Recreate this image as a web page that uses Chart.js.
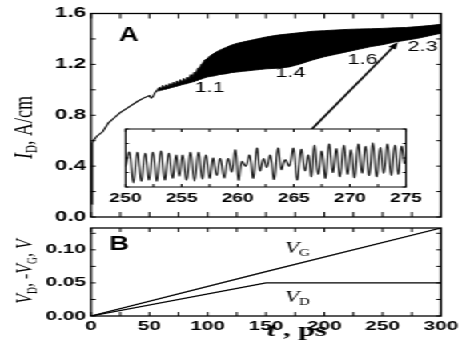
<!DOCTYPE html>
<html>
<head>
<meta charset="utf-8">
<script src="https://cdn.jsdelivr.net/npm/chart.js@4/dist/chart.umd.min.js"></script>
<style>
html, body { margin: 0; padding: 0; background: #fff; overflow: hidden; }
#wrap { position: absolute; left: 0; top: 0; width: 296px; height: 363px; transform: scaleX(1.60135); transform-origin: 0 0; }
#wrap canvas { position: absolute; left: 0; top: 0; }
</style>
</head>
<body>
<div id="wrap">
  <canvas id="cA" width="296" height="363"></canvas>
  <canvas id="cIn" width="296" height="363"></canvas>
  <canvas id="cB" width="296" height="363"></canvas>
</div>
<script>
// ---------------- DATA ----------------
// Panel A: drain current I_D (A/cm) vs time t (ps)
const traceT = [1.0, 1.1, 1.3, 2, 5, 10, 15, 20, 25, 30, 35, 40, 45, 50, 51.5, 53, 55, 57];
const traceI = [0.10, 0.45, 0.58, 0.60, 0.635, 0.67, 0.74, 0.78, 0.82, 0.85, 0.88, 0.91, 0.935, 0.955, 0.935, 0.945, 0.98, 1.00];

// oscillation band (upper / lower envelope of the fast oscillation)
const bandT = [57, 58.5, 60, 61.5, 63, 64.5, 66, 67.5, 69, 70.5, 72, 73.5, 75, 76.5, 78, 79.5, 81, 82.5, 84, 85.5, 87, 88.5, 90, 91.5, 93, 94.5, 96, 97.5, 99,
               102, 106, 110, 115, 120, 125, 130, 135, 140, 145, 150, 160, 170, 180, 190, 200, 210, 220, 230, 240, 250, 260, 270, 280, 290, 300];
const bandUpper = [1.00, 1.02, 1.01, 1.035, 1.015, 1.04, 1.02, 1.05, 1.03, 1.06, 1.04, 1.07, 1.05, 1.08, 1.06, 1.09, 1.07, 1.10, 1.085, 1.12, 1.10, 1.14, 1.13, 1.17, 1.17, 1.20, 1.21, 1.235, 1.24,
                   1.265, 1.29, 1.31, 1.33, 1.35, 1.365, 1.375, 1.385, 1.395, 1.405, 1.415, 1.43, 1.44, 1.45, 1.46, 1.465, 1.47, 1.475, 1.478, 1.48, 1.483, 1.487, 1.49, 1.497, 1.505, 1.515];
const bandLower = [0.99, 0.992, 0.997, 0.999, 1.004, 1.005, 1.011, 1.013, 1.019, 1.02, 1.026, 1.027, 1.033, 1.034, 1.041, 1.042, 1.048, 1.049, 1.056, 1.057, 1.063, 1.064, 1.071, 1.074, 1.081, 1.084, 1.09, 1.094, 1.10,
                   1.105, 1.11, 1.12, 1.125, 1.135, 1.14, 1.145, 1.15, 1.155, 1.16, 1.165, 1.17, 1.18, 1.205, 1.235, 1.26, 1.28, 1.30, 1.32, 1.34, 1.355, 1.375, 1.39, 1.405, 1.425, 1.445];
const bandLabels = ['1.1', '1.4', '1.6', '2.3'];

// Inset: zoom of the oscillation, 250-275 ps (relative units)
const insetT = [250.00,250.35,250.70,251.05,251.40,251.75,252.10,252.45,252.80,253.15,253.50,253.85,254.20,254.50,254.80,255.10,255.45,255.80,256.15,256.50,256.85,257.15,257.50,257.80,258.12,258.45,258.80,259.14,259.47,259.79,260.08,260.38,260.72,261.06,261.39,261.72,262.00,262.30,262.60,262.90,263.25,263.59,263.90,264.23,264.60,264.97,265.30,265.66,266.00,266.30,266.57,266.84,267.17,267.50,267.82,268.15,268.48,268.80,269.12,269.45,269.78,270.10,270.42,270.75,271.08,271.40,271.72,272.05,272.38,272.70,273.02,273.35,273.68,274.00,274.30,274.60,274.85];
const insetV = [0.35,0.60,0.07,0.60,0.10,0.58,0.12,0.60,0.10,0.62,0.12,0.58,0.15,0.55,0.18,0.55,0.12,0.60,0.10,0.60,0.14,0.55,0.15,0.50,0.20,0.49,0.15,0.49,0.26,0.64,0.12,0.44,0.36,0.55,0.15,0.67,0.28,0.49,0.34,0.55,0.13,0.67,0.30,0.47,0.36,0.67,0.12,0.65,0.28,0.55,0.18,0.72,0.22,0.62,0.15,0.74,0.25,0.66,0.18,0.72,0.22,0.64,0.16,0.74,0.24,0.70,0.20,0.76,0.18,0.68,0.24,0.74,0.20,0.72,0.22,0.70,0.40];

// Panel B: applied voltages (V) vs time
const voltT = [0, 150, 300];
const voltG = [0, 0.067, 0.133];
const voltD = [0, 0.05, 0.05];

// Tick values and labels
const ticksAy = [0, 0.4, 0.8, 1.2, 1.6];
const labelsAy = ['0.0', '0.4', '0.8', '1.2', '1.6'];
const ticksBx = [0, 50, 100, 150, 200, 250, 300];
const labelsBx = ['0', '50', '100', '150', '200', '250', '300'];
const ticksBy = [0, 0.05, 0.10];
const labelsBy = ['0.00', '0.05', '0.10'];
const ticksInx = [250, 255, 260, 265, 270, 275];
const labelsInx = ['250', '255', '260', '265', '270', '275'];

// ---------------- helpers ----------------
const S = 474 / 296;               // horizontal stretch of the whole figure
const vx = a => a / S;             // screen px -> canvas px (x only)
const pts = (xs, ys) => xs.map((x, i) => ({ x: x, y: ys[i] }));
const fixedTicks = vals => scale => { scale.ticks = vals.map(v => ({ value: v })); };
const SANS = '"Liberation Sans", Arial, sans-serif';
const SERIF = '"Liberation Serif", "Times New Roman", serif';

Chart.defaults.font.family = SANS;
Chart.defaults.font.weight = 'bold';
Chart.defaults.color = '#000';

function drawParts(ctx, parts, px, py, o) {
  ctx.save();
  ctx.translate(px, py);
  ctx.scale(o.sx || 1, 1);
  if (o.rot) ctx.rotate(o.rot);
  ctx.fillStyle = '#000';
  ctx.textAlign = 'left';
  ctx.textBaseline = o.baseline || 'alphabetic';
  let w = 0;
  parts.forEach(p => { ctx.font = p.f; w += ctx.measureText(p.t).width; });
  let x = o.align === 'left' ? 0 : -w / 2;
  parts.forEach(p => { ctx.font = p.f; ctx.fillText(p.t, x, p.dy || 0); x += ctx.measureText(p.t).width; });
  ctx.restore();
}

const framePlugin = {
  id: 'frame',
  afterDatasetsDraw(chart, args, o) {
    const { ctx, chartArea: a, scales } = chart;
    const x = scales.x, y = scales.y;
    ctx.save();
    ctx.strokeStyle = '#000';
    ctx.lineWidth = o.lw || 1.2;
    ctx.strokeRect(a.left, a.top, a.right - a.left, a.bottom - a.top);
    ctx.lineWidth = 1;
    ctx.beginPath();
    for (let v = x.min; v <= x.max + 1e-9; v += o.xStep) {
      const p = x.getPixelForValue(v);
      ctx.moveTo(p, a.bottom); ctx.lineTo(p, a.bottom - o.lenX);
      ctx.moveTo(p, a.top); ctx.lineTo(p, a.top + o.lenX);
    }
    for (let v = y.min; v <= y.max + 1e-9; v += o.yStep) {
      const p = y.getPixelForValue(v);
      ctx.moveTo(a.left, p); ctx.lineTo(a.left + o.lenY, p);
      ctx.moveTo(a.right, p); ctx.lineTo(a.right - o.lenY, p);
    }
    ctx.stroke();
    ctx.restore();
  }
};

const textPlugin = {
  id: 'texts',
  afterDraw(chart, args, o) {
    const { ctx, scales } = chart;
    (o.data || []).forEach(it => {
      const px = scales.x.getPixelForValue(it.x);
      const py = scales.y.getPixelForValue(it.y);
      drawParts(ctx, it.parts, px, py, it);
    });
    (o.pixel || []).forEach(it => drawParts(ctx, it.parts, it.px, it.py, it));
  }
};

const arrowPlugin = {
  id: 'arrow',
  afterDatasetsDraw(chart, args, o) {
    if (!o.from) return;
    const { ctx, scales } = chart;
    const x0 = scales.x.getPixelForValue(o.from[0]), y0 = scales.y.getPixelForValue(o.from[1]);
    const x1 = scales.x.getPixelForValue(o.to[0]), y1 = scales.y.getPixelForValue(o.to[1]);
    const ang = Math.atan2(y1 - y0, x1 - x0);
    const L = 7, W = 2.6;
    ctx.save();
    ctx.strokeStyle = '#000'; ctx.fillStyle = '#000'; ctx.lineWidth = 1.5;
    ctx.beginPath();
    ctx.moveTo(x0, y0);
    ctx.lineTo(x1 - L * 0.8 * Math.cos(ang), y1 - L * 0.8 * Math.sin(ang));
    ctx.stroke();
    ctx.beginPath();
    ctx.moveTo(x1, y1);
    ctx.lineTo(x1 - L * Math.cos(ang) + W * Math.sin(ang), y1 - L * Math.sin(ang) - W * Math.cos(ang));
    ctx.lineTo(x1 - L * Math.cos(ang) - W * Math.sin(ang), y1 - L * Math.sin(ang) + W * Math.cos(ang));
    ctx.closePath();
    ctx.fill();
    ctx.restore();
  }
};

const whiteBg = {
  id: 'whiteBg',
  beforeDatasetsDraw(chart) {
    const { ctx, chartArea: a } = chart;
    ctx.save(); ctx.fillStyle = '#fff';
    ctx.fillRect(a.left, a.top, a.right - a.left, a.bottom - a.top);
    ctx.restore();
  }
};

const lineDs = (data, extra) => Object.assign({ data: data, borderColor: '#000', borderWidth: 1, pointRadius: 0, tension: 0, fill: false }, extra || {});
const common = { responsive: false, animation: false, devicePixelRatio: 1, events: [] };

// ---------------- Panel A ----------------
new Chart(document.getElementById('cA'), {
  type: 'line',
  data: { datasets: [
    lineDs(pts(traceT, traceI), { borderWidth: 1.1 }),
    lineDs(pts(bandT, bandLower), { borderWidth: 0.9 }),
    lineDs(pts(bandT, bandUpper), { borderWidth: 0.9, fill: '-1', backgroundColor: '#000' })
  ] },
  options: Object.assign({}, common, {
    layout: { padding: { left: 0, top: 13.5, right: 296 - vx(441), bottom: 146 } },
    plugins: {
      legend: { display: false }, tooltip: { enabled: false },
      frame: { xStep: 25, yStep: 0.2, lenX: 5, lenY: 3, lw: 1.3 },
      arrow: { from: [189.4, 0.692], to: [263.1, 1.375] },
      texts: {
        data: [
          { x: 32.3, y: 1.427, sx: 0.85, baseline: 'middle', parts: [{ t: 'A', f: 'bold 20px ' + SANS }] },
          { x: 101.6, y: 1.014, sx: 0.9, baseline: 'middle', parts: [{ t: bandLabels[0], f: '15px ' + SANS }] },
          { x: 170.9, y: 1.132, sx: 0.9, baseline: 'middle', parts: [{ t: bandLabels[1], f: '15px ' + SANS }] },
          { x: 232.7, y: 1.234, sx: 0.9, baseline: 'middle', parts: [{ t: bandLabels[2], f: '15px ' + SANS }] },
          { x: 284.1, y: 1.338, sx: 0.9, baseline: 'middle', parts: [{ t: bandLabels[3], f: '15px ' + SANS }] }
        ],
        pixel: [
          { px: vx(32), py: 127.5, rot: -Math.PI / 2, sx: 0.92, parts: [
            { t: 'I', f: 'italic 18px ' + SERIF },
            { t: 'D', f: '11px ' + SERIF, dy: 3.5 },
            { t: ', A/cm', f: '18px ' + SERIF }
          ] }
        ]
      }
    },
    scales: {
      x: { type: 'linear', min: 0, max: 300, display: false },
      y: {
        type: 'linear', min: 0, max: 1.6,
        afterBuildTicks: fixedTicks(ticksAy),
        afterFit: s => { s.width = vx(91); },
        grid: { display: false, drawTicks: false }, border: { display: false },
        ticks: { padding: 3, font: { size: 14, weight: 'bold' }, color: '#000', callback: (v, i) => labelsAy[i] }
      }
    }
  }),
  plugins: [framePlugin, arrowPlugin, textPlugin]
});

// ---------------- Inset ----------------
new Chart(document.getElementById('cIn'), {
  type: 'line',
  data: { datasets: [ lineDs(pts(insetT, insetV), { borderColor: '#1a1a1a', borderWidth: 1.1, tension: 0.4 }) ] },
  options: Object.assign({}, common, {
    layout: { padding: { left: vx(125.5), top: 129, right: 296 - vx(406), bottom: 0 } },
    plugins: {
      legend: { display: false }, tooltip: { enabled: false },
      frame: { xStep: 2.5, yStep: 0.25, lenX: 3, lenY: 2, lw: 1 }
    },
    scales: {
      x: {
        type: 'linear', min: 250, max: 275,
        afterBuildTicks: fixedTicks(ticksInx),
        afterFit: s => { s.height = 363 - 187; },
        grid: { display: false, drawTicks: false }, border: { display: false },
        ticks: { padding: 4, maxRotation: 0, autoSkip: false, font: { size: 12, weight: 'bold' }, color: '#000', callback: (v, i) => labelsInx[i] }
      },
      y: { type: 'linear', min: 0, max: 1, display: false }
    }
  }),
  plugins: [whiteBg, framePlugin]
});

// ---------------- Panel B ----------------
new Chart(document.getElementById('cB'), {
  type: 'line',
  data: { datasets: [
    lineDs(pts(voltT, voltG), { borderWidth: 1.3 }),
    lineDs(pts(voltT, voltD), { borderWidth: 1.3 })
  ] },
  options: Object.assign({}, common, {
    layout: { padding: { left: 0, top: 228, right: 296 - vx(441), bottom: 0 } },
    plugins: {
      legend: { display: false }, tooltip: { enabled: false },
      frame: { xStep: 25, yStep: 0.025, lenX: 4, lenY: 3, lw: 1.3 },
      texts: {
        data: [
          { x: 24, y: 0.1076, sx: 0.85, baseline: 'middle', parts: [{ t: 'B', f: 'bold 20px ' + SANS }] },
          { x: 166.3, y: 0.0955, sx: 0.85, align: 'left', parts: [
            { t: 'V', f: 'italic 17px ' + SERIF }, { t: 'G', f: '11px ' + SERIF, dy: 3 } ] },
          { x: 166.3, y: 0.0217, sx: 0.85, align: 'left', parts: [
            { t: 'V', f: 'italic 17px ' + SERIF }, { t: 'D', f: '11px ' + SERIF, dy: 3 } ] }
        ],
        pixel: [
          { px: vx(32), py: 271.5, rot: -Math.PI / 2, sx: 0.9, parts: [
            { t: 'V', f: 'italic 16px ' + SERIF },
            { t: 'D', f: '9.5px ' + SERIF, dy: 3.5 },
            { t: ', -', f: '16px ' + SERIF },
            { t: 'V', f: 'italic 16px ' + SERIF },
            { t: 'G', f: '9.5px ' + SERIF, dy: 3.5 },
            { t: ', ', f: '16px ' + SERIF },
            { t: 'V', f: 'italic 16px ' + SERIF }
          ] },
          { px: vx(297), py: 336, parts: [
            { t: 't', f: 'italic bold 19px ' + SERIF },
            { t: ' , ps', f: 'bold 19px ' + SERIF }
          ] }
        ]
      }
    },
    scales: {
      x: {
        type: 'linear', min: 0, max: 300,
        afterBuildTicks: fixedTicks(ticksBx),
        afterFit: s => { s.height = 363 - 316; },
        grid: { display: false, drawTicks: false }, border: { display: false },
        ticks: { padding: 3, maxRotation: 0, autoSkip: false, font: { size: 13, weight: 'bold' }, color: '#000', callback: (v, i) => labelsBx[i] }
      },
      y: {
        type: 'linear', min: 0, max: 0.133,
        afterBuildTicks: fixedTicks(ticksBy),
        afterFit: s => { s.width = vx(91); },
        grid: { display: false, drawTicks: false }, border: { display: false },
        ticks: { padding: 3, font: { size: 13, weight: 'bold' }, color: '#000', callback: (v, i) => labelsBy[i] }
      }
    }
  }),
  plugins: [framePlugin, textPlugin]
});
</script>
</body>
</html>
